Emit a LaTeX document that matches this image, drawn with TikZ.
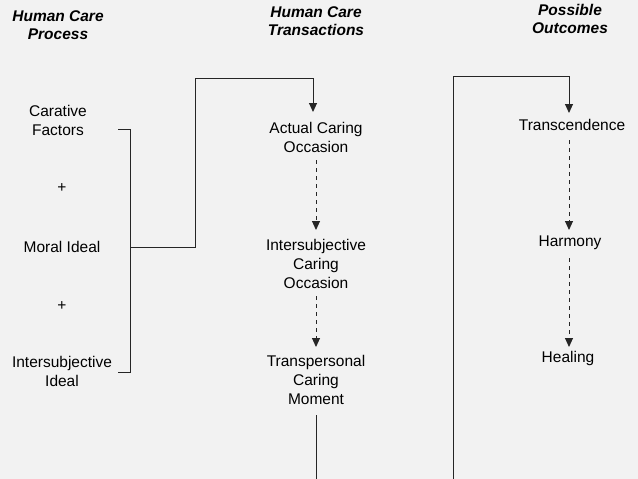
\documentclass[tikz,border=0pt]{standalone}
\usepackage{fontspec}
\setmainfont{Liberation Sans}
\usetikzlibrary{arrows.meta}
\begin{document}
\begin{tikzpicture}[x=1pt,y=-1pt,
  txt/.style={align=center,font=\fontsize{15.5}{19}\selectfont,inner sep=1pt},
  hdr/.style={align=center,font=\fontsize{15.5}{17.5}\selectfont\bfseries\itshape,inner sep=1pt},
  ln/.style={draw=black!85,line width=1pt},
  arr/.style={ln,-{Triangle[length=9pt,width=8pt]}},
  darr/.style={arr,dash pattern=on 4pt off 4pt}]
\fill[black!5] (0,0) rectangle (638,479);
\useasboundingbox (0,0) rectangle (638,479);
\node[hdr] (h1) at (58,25) {Human Care\\Process};
\node[hdr] (h2) at (316,21) {Human Care\\Transactions};
\node[hdr] (h3) at (570,19) {Possible\\Outcomes};
\node[txt] (cf) at (58,120) {Carative\\Factors};
\node[txt] (p1) at (62,188) {+};
\node[txt] (mi) at (62,247) {Moral Ideal};
\node[txt] (p2) at (62,306) {+};
\node[txt] (ii) at (62,371) {Intersubjective\\Ideal};
\coordinate (b1) at (118,129);
\coordinate (b2) at (118,372);
\coordinate (bm) at (130,247);
\draw[ln] (b1) -- (130,129) -- (130,372) -- (b2);
\node[txt] (ac) at (316,137) {Actual Caring\\Occasion};
\node[txt] (ic) at (316,264) {Intersubjective\\Caring\\Occasion};
\node[txt] (tc) at (316,380) {Transpersonal\\Caring\\Moment};
\node[txt] (tr) at (572,125) {Transcendence};
\node[txt] (ha) at (570,243) {Harmony};
\node[txt] (he) at (568,358) {Healing};
\draw[arr] (bm) -- (195,247) -- (195,78) -- (313,78) -- (313,112);
\draw[darr] (316,160) -- (316,230);
\draw[darr] (316,296) -- (316,347);
\coordinate (bt) at (316,479);
\draw[ln] (316,415) -- (bt);
\coordinate (rb) at (453,479);
\draw[arr] (rb) -- (453,76) -- (569,76) -- (569,113);
\draw[darr] (569,140) -- (569,230);
\draw[darr] (569,258) -- (569,347);
\end{tikzpicture}
\end{document}
